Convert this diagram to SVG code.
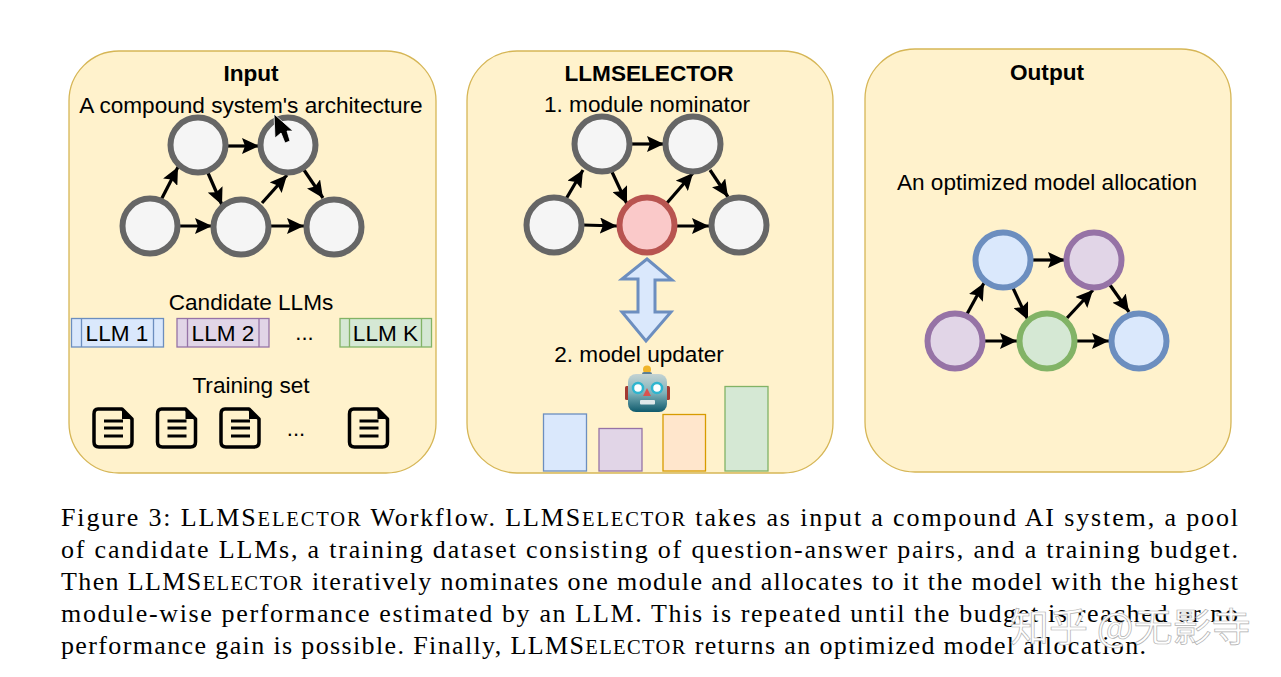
<svg xmlns="http://www.w3.org/2000/svg" xmlns:xlink="http://www.w3.org/1999/xlink" width="1281" height="677" viewBox="0 0 1281 677">
<style>
text{font-family:"Liberation Sans",Arial,sans-serif;fill:#000}
.lbl{font-size:22.6px;text-anchor:middle}
.b{font-weight:bold}
.panel{fill:#fff2cc;stroke:#d6b656;stroke-width:1.3}
.n{stroke-width:6;fill:#f5f5f5;stroke:#666}
.blue{fill:#dae8fc;stroke:#6c8ebf}
.pur{fill:#e1d5e7;stroke:#9673a6}
.grn{fill:#d5e8d4;stroke:#82b366}
.org{fill:#ffe6cc;stroke:#d79b00}
.red{fill:#fac9c9;stroke:#b85450}
.bx{stroke-width:1.3}
.e{stroke:#000;stroke-width:3.2;fill:none;marker-end:url(#ah)}
.doc{fill:none;stroke:#000;stroke-width:3.5;stroke-linejoin:round}
.cap{font-family:"Liberation Serif","Times New Roman",serif;font-size:26px}
.sc{font-size:20.5px}
.wm{font-family:"Noto Sans CJK SC",sans-serif;font-size:39px;fill:#fff;stroke:#b0b0b0;stroke-width:.7}
</style>
<defs>
<marker id="ah" markerUnits="userSpaceOnUse" markerWidth="18" markerHeight="16" refX="17" refY="8" orient="auto"><path d="M0 0L17 8L0 16L3 8Z" fill="#000"/></marker>
<g id="d"><path class="doc" d="M-15 -19H9L19 -9V14Q19 19 14 19H-14Q-19 19 -19 14V-14Q-19 -19 -15 -19Z"/><path d="M9 -19L19 -9H9Z" fill="#000"/><path d="M-9 -7H10M-9 0H10M-9 8H10" stroke="#000" stroke-width="3.2"/></g>
</defs>
<rect width="1281" height="677" fill="#fff"/>

<g id="panel-input">
<rect class="panel" x="69" y="51" width="367" height="422" rx="50"/>
<text class="lbl b" x="251" y="81">Input</text>
<text class="lbl" x="251" y="113">A compound system's architecture</text>
<text class="lbl" x="251" y="310">Candidate LLMs</text>
<text class="lbl" x="251" y="393">Training set</text>
</g>
<g id="panel-selector">
<rect class="panel" x="467" y="51" width="366" height="422" rx="50"/>
<text class="lbl b" x="649" y="81">LLMSELECTOR</text>
<text class="lbl" x="647" y="112">1. module nominator</text>
<text class="lbl" x="639" y="362">2. model updater</text>
</g>
<g id="panel-output">
<rect class="panel" x="865" y="49" width="366" height="423" rx="50"/>
<text class="lbl b" x="1047" y="80">Output</text>
<text class="lbl" x="1047" y="190">An optimized model allocation</text>
</g>

<g id="connectors">
<path class="e" d="M228 146H259"/>
<path class="e" d="M161 200L178 167"/>
<path class="e" d="M208 173L222 205"/>
<path class="e" d="M262 203L287 175"/>
<path class="e" d="M304 170L323 198"/>
<path class="e" d="M179 226H212"/>
<path class="e" d="M271 226H304"/>

<path class="e" d="M632 144H664"/>
<path class="e" d="M566 199L583 170"/>
<path class="e" d="M612 172L627 204"/>
<path class="e" d="M667 203L693 173"/>
<path class="e" d="M710 170L728 197"/>
<path class="e" d="M583 225L617 226"/>
<path class="e" d="M676 226H709"/>

<path class="e" d="M1033 260H1065"/>
<path class="e" d="M967 314L984 283"/>
<path class="e" d="M1013 288L1028 320"/>
<path class="e" d="M1067 318L1093 290"/>
<path class="e" d="M1110 285L1129 312"/>
<path class="e" d="M984 341H1017"/>
<path class="e" d="M1076 341H1109"/>
<path id="updown" d="M647 259L672 280H655V312H671L646 341L622 312H638V279H622Z" fill="#dae8fc" stroke="#6c8ebf" stroke-width="3" stroke-linejoin="miter"/>
</g>

<g id="n1"><circle class="n" cx="198" cy="145" r="27.5"/></g>
<g id="n2"><circle class="n" cx="288" cy="145" r="27.5"/></g>
<g id="n3"><circle class="n" cx="150" cy="226" r="27.5"/></g>
<g id="n4"><circle class="n" cx="241" cy="227" r="27.5"/></g>
<g id="n5"><circle class="n" cx="334" cy="227" r="27.5"/></g>

<g id="m1"><circle class="n" cx="602" cy="144" r="27.5"/></g>
<g id="m2"><circle class="n" cx="693" cy="144" r="27.5"/></g>
<g id="m3"><circle class="n" cx="554" cy="225" r="27.5"/></g>
<g id="m4"><circle class="n red" cx="647" cy="225" r="27.5"/></g>
<g id="m5"><circle class="n" cx="739" cy="225" r="27.5"/></g>

<g id="o1"><circle class="n blue" cx="1003" cy="260" r="27.5"/></g>
<g id="o2"><circle class="n pur" cx="1094" cy="260" r="27.5"/></g>
<g id="o3"><circle class="n pur" cx="955" cy="341" r="27.5"/></g>
<g id="o4"><circle class="n grn" cx="1047" cy="341" r="27.5"/></g>
<g id="o5"><circle class="n blue" cx="1139" cy="341" r="27.5"/></g>

<g id="cursor"><path d="M274 114L275 138L281 133L285 143L290 141L287 131L293 131Z" fill="#000" stroke="#fff" stroke-width=".8" stroke-linejoin="round"/></g>

<g id="llm1"><rect class="blue bx" x="71.5" y="318.5" width="92" height="28.5"/><path class="blue bx" d="M81.5 318.5V347M153.5 318.5V347"/><text class="lbl" x="117" y="341">LLM 1</text></g>
<g id="llm2"><rect class="pur bx" x="177" y="318.500" width="92" height="28.5"/><path class="pur bx" d="M187.500 318.500V347M259 318.500V347"/><text class="lbl" x="223" y="341">LLM 2</text></g>
<g id="llm-dots"><text class="lbl" x="304.500" y="340" style="font-size:22px">...</text></g>
<g id="llmk"><rect class="grn bx" x="340" y="318.500" width="91.500" height="28.5"/><path class="grn bx" d="M349.500 318.500V347M421.500 318.500V347"/><text class="lbl" x="385.500" y="341">LLM K</text></g>

<g id="doc1"><use xlink:href="#d" href="#d" x="113" y="428"/></g>
<g id="doc2"><use xlink:href="#d" href="#d" x="176.500" y="428"/></g>
<g id="doc3"><use xlink:href="#d" href="#d" x="240" y="428"/></g>
<g id="doc-dots"><text class="lbl" x="296" y="436" style="font-size:22px">...</text></g>
<g id="doc4"><use xlink:href="#d" href="#d" x="368.500" y="428"/></g>

<g id="bars">
<rect class="blue bx" x="543.500" y="414" width="43" height="57"/>
<rect class="pur bx" x="599" y="428.500" width="43" height="42.500"/>
<rect class="org bx" x="663" y="414.500" width="42.500" height="56.500"/>
<rect class="grn bx" x="725" y="386.500" width="43" height="84.500"/>
</g>
<g id="robot">
<defs><linearGradient id="rg" x1="0" y1="0" x2="0" y2="1"><stop offset="0" stop-color="#c5d3d3"/><stop offset=".5" stop-color="#7fb2ba"/><stop offset="1" stop-color="#0f5a6c"/></linearGradient></defs>
<circle cx="647" cy="369.500" r="4" fill="#f0b429"/>
<rect x="642" y="372" width="10" height="4" rx="2" fill="#5b7f96"/>
<rect x="625" y="386" width="5" height="14" rx="1.500" fill="#a33a32"/>
<rect x="665" y="386" width="5" height="14" rx="1.500" fill="#a33a32"/>
<rect x="628" y="374" width="39" height="38" rx="8" fill="url(#rg)"/>
<circle cx="638" cy="388" r="5" fill="#fff" stroke="#2fb5cf" stroke-width="2.500"/>
<circle cx="657" cy="388" r="5" fill="#fff" stroke="#2fb5cf" stroke-width="2.500"/>
<path d="M647 388L651 396H643Z" fill="#d9534f"/>
<rect x="640" y="400" width="15" height="4.500" rx="1" fill="#dfe8ea"/>
</g>

<g id="caption">
<text class="cap" x="61" y="526" textLength="1177">Figure 3: LLMS<tspan class="sc">ELECTOR</tspan> Workflow. LLMS<tspan class="sc">ELECTOR</tspan> takes as input a compound AI system, a pool</text>
<text class="cap" x="61" y="558" textLength="1177">of candidate LLMs, a training dataset consisting of question-answer pairs, and a training budget.</text>
<text class="cap" x="61" y="590" textLength="1177">Then LLMS<tspan class="sc">ELECTOR</tspan> iteratively nominates one module and allocates to it the model with the highest</text>
<text class="cap" x="61" y="622" textLength="1177">module-wise performance estimated by an LLM. This is repeated until the budget is reached or no</text>
<text class="cap" x="61" y="654" textLength="1085">performance gain is possible. Finally, LLMS<tspan class="sc">ELECTOR</tspan> returns an optimized model allocation.</text>
</g>
<g id="watermark"><text class="wm" x="1010" y="641">知乎 @无影寺</text></g>
</svg>
